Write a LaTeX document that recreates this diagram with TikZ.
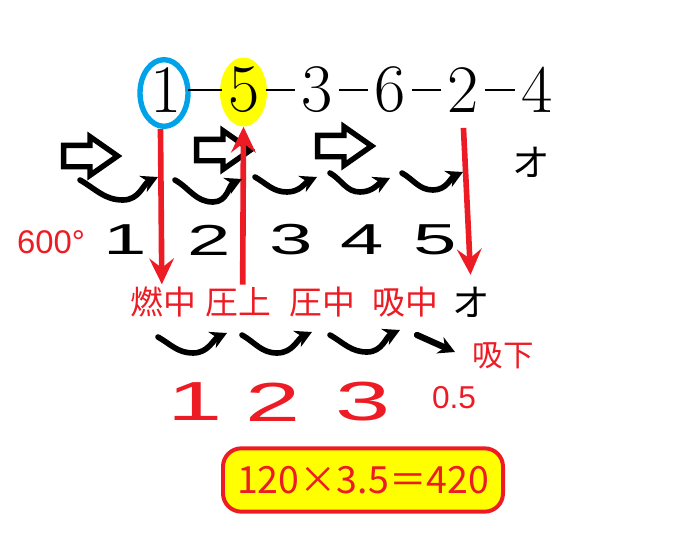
\documentclass[tikz,border=0pt]{standalone}
\usepackage{fontspec}
\newfontfamily\jpfont{Noto Sans CJK JP}
\newfontfamily\arialfont{Liberation Sans}
\usetikzlibrary{arrows.meta,shapes.arrows,shapes.geometric,positioning}
\definecolor{pred}{HTML}{ED1C24}
\definecolor{pblue}{HTML}{00A2E8}
\definecolor{pyellow}{HTML}{FFFF00}
\newcommand{\widen}[2]{\scalebox{#1}[1]{#2}}

\begin{document}
\begin{tikzpicture}[x=0.03cm,y=-0.03cm,
    top digit/.style={font=\fontsize{58}{60}\selectfont,inner sep=5pt},
    row digit/.style={font=\arialfont\fontsize{37}{39}\selectfont,inner sep=2pt},
    red digit/.style={font=\arialfont\fontsize{47}{50}\selectfont,text=pred,inner sep=2pt},
    stage/.style={font=\jpfont\fontsize{28}{30}\selectfont,text=pred,inner sep=2pt},
    red arrow/.style={pred,line width=4.8pt,-{Stealth[length=22pt,width=21pt,inset=8pt]}},
    swoop/.style={line width=4.8pt,line cap=round,-{Stealth[length=14pt,width=15pt]}},
    block arrow/.style={single arrow,draw,fill=white,line width=4.6pt,
      minimum height=1.62cm,inner sep=0.24cm,single arrow head extend=0.26cm,
      single arrow tip angle=70}]

  \useasboundingbox (0,0) rectangle (690,559);

  % firing order
  \node[ellipse,draw=pblue,line width=4.6pt,minimum width=1.44cm,minimum height=2cm] (c1) at (164,93) {};
  \node[ellipse,fill=pyellow,minimum width=1.41cm,minimum height=2.07cm] (c5) at (243.5,92) {};
  \node[top digit] (d1) at (166,90) {1};
  \node[top digit] (d5) at (244,90) {5};
  \node[top digit] (d3) at (317,90) {3};
  \node[top digit] (d6) at (390,90) {6};
  \node[top digit] (d2) at (463,90) {2};
  \node[top digit] (d4) at (537,90) {4};
  \path[line width=2.2pt]
    (d1) edge (d5)
    (d5) edge (d3)
    (d3) edge (d6)
    (d6) edge (d2)
    (d2) edge (d4);

  \node[block arrow] (b1) at (83,156) {};
  \node[block arrow] (b2) at (216,150) {};
  \node[block arrow] (b3) at (337,146) {};
  \node[font=\jpfont\fontsize{32}{34}\selectfont] (o1) at (531,162) {オ};

  % crank angle
  \node[font=\arialfont\fontsize{28}{30}\selectfont,text=pred] (t600) at (51,242) {600°};
  \node[row digit] (n1) at (125,240) {\widen{1.8}{1}};
  \node[row digit] (n2) at (209,240) {\widen{1.8}{2}};
  \node[row digit] (n3) at (291,240) {\widen{1.8}{3}};
  \node[row digit] (n4) at (362,240) {\widen{1.8}{4}};
  \node[row digit] (n5) at (435,240) {\widen{1.8}{5}};

  % strokes
  \node[stage] (k1) at (163,302) {燃中};
  \node[stage] (k2) at (238,302) {圧上};
  \node[stage] (k3) at (322,302) {圧中};
  \node[stage] (k4) at (405,302) {吸中};
  \node[stage,text=black,font=\jpfont\fontsize{32}{34}\selectfont] (k5) at (471,302) {オ};
  \node[stage,font=\jpfont\fontsize{26}{28}\selectfont] (k6) at (503,356) {吸下};

  \node[red digit] (r1) at (195,402) {\widen{1.8}{1}};
  \node[red digit] (r2) at (273,402) {\widen{1.8}{2}};
  \node[red digit] (r3) at (363,402) {\widen{1.8}{3}};
  \node[font=\arialfont\fontsize{27}{29}\selectfont,text=pred] (r4) at (454,398) {0.5};

  \node[draw=pred,fill=pyellow,line width=3.4pt,rounded corners=0.55cm,
        minimum width=8.4cm,minimum height=1.9cm,text=pred,
        font=\jpfont\fontsize{32}{34}\selectfont] (calc) at (363,480) {120×3.5＝420};

  \draw[red arrow] ([xshift=-3pt]c1.south) -- ([xshift=-1pt]k1.north);
  \draw[red arrow] ([xshift=4pt]k2.north) -- (c5.south);
  \draw[red arrow,shorten <=8pt,shorten >=8pt] (d2.south) -- (k5.north);

  \foreach \i/\sx/\sy/\mx/\my/\ex/\ey in {1/80/180/123/200/158/177, 2/175/180/213/202/242/179,
      3/255/177/287/192/317/177, 4/330/173/360/192/390/178, 5/402/173/433/190/463/172,
      6/158/337/193/353/227/333, 7/242/335/277/353/312/332, 8/330/335/367/352/400/330}{
    \coordinate (sa\i) at (\sx,\sy);
    \coordinate (sm\i) at (\mx,\my);
    \coordinate (se\i) at (\ex,\ey);
    \draw[swoop] (sa\i) to[out=-30,in=180] (sm\i) to[out=0,in=205] (se\i);
  }
  \coordinate (sa9) at (417,335);
  \coordinate (se9) at (455,352);
  \draw[swoop,line width=5.4pt] (sa9) -- (se9);

\end{tikzpicture}
\end{document}
